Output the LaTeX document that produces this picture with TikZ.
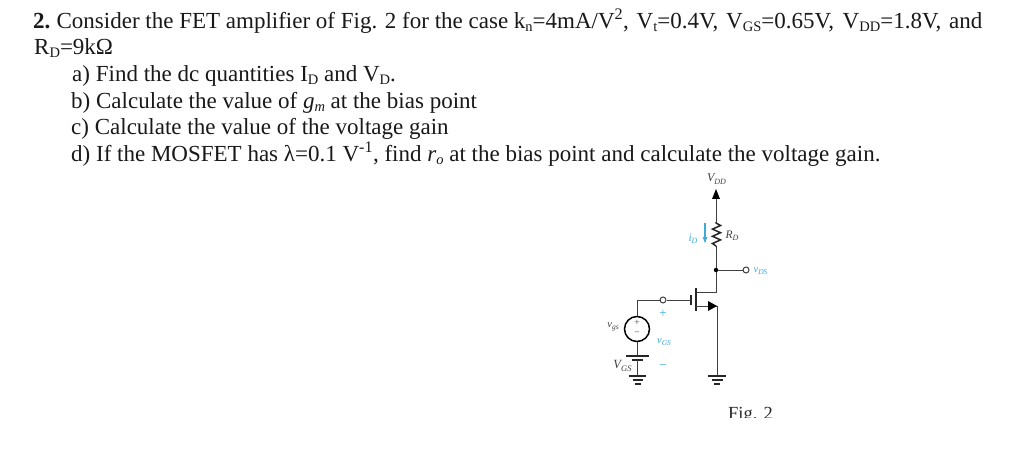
\documentclass[tikz,border=0pt]{standalone}
\usepackage{fontspec}
\setmainfont{Liberation Serif}
\usetikzlibrary{arrows.meta}
\definecolor{wirec}{HTML}{404040}
\definecolor{cyanc}{HTML}{3FA9D8}
\newcommand{\sbs}[1]{\raisebox{-0.12em}{\fontsize{14.5}{15}\selectfont #1}}
\newcommand{\csb}[2]{\raisebox{-0.2em}{\fontsize{#1}{#1}\selectfont #2}}
\tikzset{
  textline/.style={anchor=base west,inner sep=0pt,font=\fontsize{23}{25}\selectfont,text=black!90},
  wire/.style={draw=wirec,line width=1pt},
  heavy/.style={draw=black!85,line width=1.5pt},
  term/.style={circle,draw=wirec,fill=white,line width=1pt,inner sep=0pt,minimum size=6pt},
  dotn/.style={circle,fill=black,inner sep=0pt,minimum size=4.5pt},
  lab/.style={inner sep=0pt,font=\fontsize{10.5}{11}\selectfont\itshape,text=black!75},
  cyanlab/.style={inner sep=0pt,font=\fontsize{10.5}{11}\selectfont\itshape,text=cyanc},
  srcn/.style={circle,draw=black,line width=1.5pt,fill=white,minimum size=25pt,inner sep=0pt},
}
\begin{document}
\begin{tikzpicture}[x=1pt,y=-1pt]
\useasboundingbox (0,0) rectangle (1024,454);
\fill[white] (0,0) rectangle (1024,454);
% question text
\node[textline] (q1) at (33,29) {\textbf{2.}\hspace{-1.5pt} Consider the FET amplifier of Fig. 2 for the case k\sbs{n}=4mA/V\textsuperscript{2},\hspace{2pt} V\sbs{t}=0.4V,\hspace{2pt} V\sbs{GS}=0.65V,\hspace{3pt} V\sbs{DD}=1.8V,\hspace{2pt} and};
\node[textline] (q2) at (34,55) {R\sbs{D}=9kΩ};
\node[textline] (qa) at (72,82) {a) Find the dc quantities I\sbs{D} and V\sbs{D}.};
\node[textline] (qb) at (71,108.5) {b) Calculate the value of \textit{g\sbs{m}} at the bias point};
\node[textline] (qc) at (71,135) {c) Calculate the value of the voltage gain};
\node[textline] (qd) at (71,162) {d) If the MOSFET has λ=0.1 V\textsuperscript{-1}, find \textit{r\sbs{o}} at the bias point and calculate the voltage gain.};
% named points
\coordinate (vddtip) at (716,189);
\coordinate (rtop) at (716,222);
\coordinate (rbot) at (716,246);
\node[dotn] (dn) at (716,270) {};
\node[term] (vout) at (746,270) {};
\coordinate (dch) at (696,292);
\coordinate (dcor) at (716,292);
\coordinate (sch) at (696,306);
\coordinate (scor) at (717,306);
\coordinate (gnd1) at (717,376);
\coordinate (gnd2) at (637,376);
\coordinate (gplate) at (691,300);
\node[term] (gt) at (663,300) {};
\coordinate (gcor) at (637,300);
\node[srcn] (src) at (637,329) {};
\coordinate (batL) at (637,356);
\coordinate (batS) at (637,360);
% wires
\draw[wire] (rtop) -- (716,198);
\fill[black] (vddtip) -- (712,199) -- (720,199) -- cycle;
\draw[wire] (rbot) -- (dn) -- (dcor) -- (dch);
\draw[wire] (dn) -- (vout);
\draw[heavy,line join=miter] (rtop) -- ++(0,1) -- ++(4.5,2.5) -- ++(-8,3.6) -- ++(8,3.6) -- ++(-8,3.6) -- ++(8,3.6) -- ++(-8,3.6) -- ++(3.5,2.5) -- (rbot);
\draw[heavy] (696,288) -- (696,311);
\draw[heavy] (691,295) -- (691,305);
\draw[wire] (gplate) -- (gt) -- (gcor) -- (src);
\draw[wire] (sch) -- (scor) -- (gnd1);
\fill[black] (scor) -- (708,301) -- (708,311) -- cycle;
\draw[wire] (src) -- (batL);
\draw[heavy] (626,356) -- (649,356);
\draw[heavy] (632,360) -- (643,360);
\draw[wire] (batS) -- (gnd2);
% grounds
\draw[heavy] (708,376) -- (726,376);
\draw[heavy] (711.5,380) -- (723,380);
\draw[heavy] (714,384) -- (720,384);
\draw[heavy] (629,376) -- (646,376);
\draw[heavy] (632.5,380) -- (642.5,380);
\draw[heavy] (634.5,384) -- (640.5,384);
% source sign
\node[inner sep=0pt,font=\fontsize{9.5}{9.5}\selectfont,text=black!75] (sp) at (637,322.5) {+};
\node[inner sep=0pt,font=\fontsize{9.5}{9.5}\selectfont,text=black!75] (sm) at (637,334) {−};
% labels
\node[lab,font=\fontsize{12}{12}\selectfont\itshape] (lvdd) at (716.5,179) {V\csb{8}{DD}};
\node[lab,font=\fontsize{11.5}{12}\selectfont\itshape] (lrd) at (732,236) {R\csb{8}{D}};
\node[cyanlab,font=\fontsize{11.5}{12}\selectfont\itshape] (lid) at (693,239) {i\csb{8}{D}};
\coordinate (iatop) at (705,223);
\coordinate (iabot) at (705,244);
\draw[draw=cyanc,line width=1.1pt,-{Latex[length=7pt,width=5pt]}] (iatop) -- (iabot);
\node[cyanlab] (lvds) at (760.5,271) {v\csb{7.5}{DS}};
\node[cyanlab,font=\fontsize{13}{13}\selectfont] (lp) at (663,314) {+};
\node[cyanlab] (lvgs) at (664,342) {v\csb{7.5}{GS}};
\node[cyanlab,font=\fontsize{13}{13}\selectfont] (lm) at (663,367) {−};
\node[lab] (lvg) at (613,327) {v\csb{7.5}{gs}};
\node[lab,font=\fontsize{12.5}{13}\selectfont\itshape] (lVG) at (622.5,366) {V\csb{8.5}{GS}};
% figure caption, cut off at the lower edge of the crop
\node[anchor=base west,inner sep=0pt,font=\fontsize{18.5}{18}\selectfont,text=black!85] (fig) at (728,419.5) {Fig. 2};
\fill[white] (700,418) rectangle (800,430);
\end{tikzpicture}
\end{document}
